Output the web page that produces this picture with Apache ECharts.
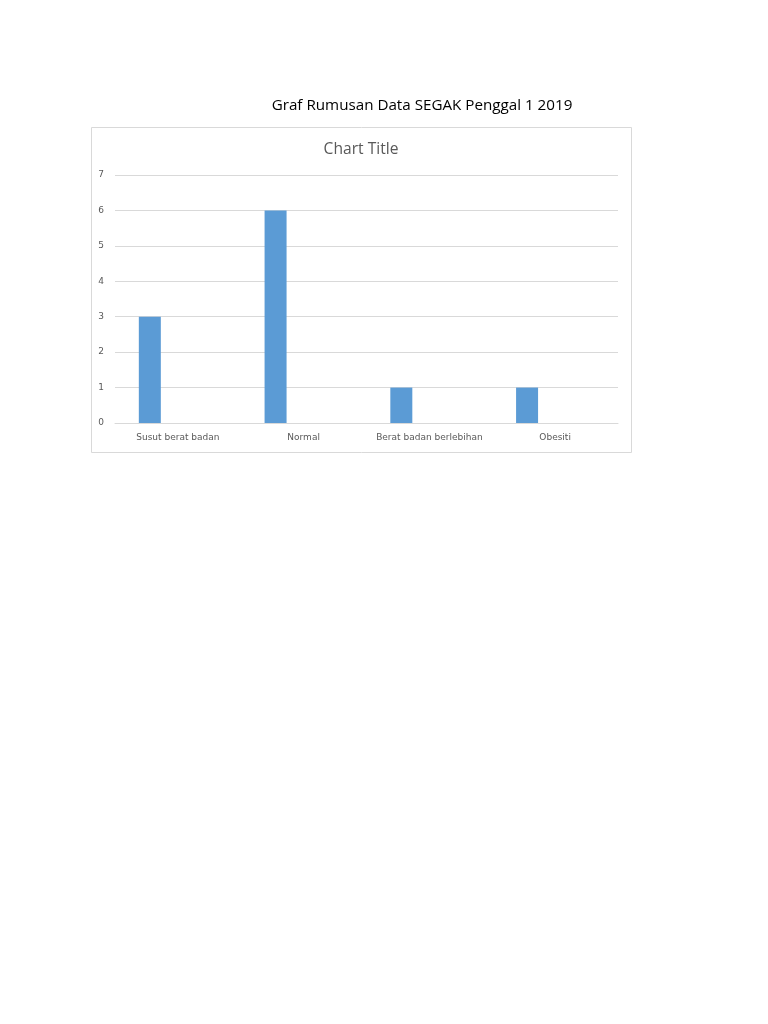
<!DOCTYPE html>
<html>
<head>
<meta charset="utf-8">
<script src="https://cdn.jsdelivr.net/npm/echarts@6/dist/echarts.min.js"></script>
<style>html,body{margin:0;padding:0;background:#fff;}#c{width:768px;height:1024px;}</style>
</head>
<body>
<div id="c"></div>
<script>
var categories = ['Susut berat badan', 'Normal', 'Berat badan berlebihan', 'Obesiti'];
var series1Values = [3, 6, 1, 1];
var series2Values = [null, null, null, null];
var yTicks = [0, 1, 2, 3, 4, 5, 6, 7];
var pageTitle = 'Graf Rumusan Data SEGAK Penggal 1 2019';
var chartTitle = 'Chart Title';

var chart = echarts.init(document.getElementById('c'), null, {renderer: 'canvas'});
chart.setOption({
  backgroundColor: '#ffffff',
  animation: false,
  graphic: [
    {type: 'rect', shape: {x: 91.5, y: 127.5, width: 540, height: 325},
     style: {fill: 'none', stroke: '#d9d9d9', lineWidth: 1}, z: -1},
    {type: 'text', x: 422, y: 106, style: {text: pageTitle, fill: '#000', font: 'normal 15.2px "Open Sans"',
      textAlign: 'center', textVerticalAlign: 'middle'}},
    {type: 'text', x: 361, y: 150, style: {text: chartTitle, fill: '#595959', font: 'normal 15.6px "Open Sans"',
      textAlign: 'center', textVerticalAlign: 'middle'}}
  ],
  grid: {left: 115, right: 150, top: 175, bottom: 601, containLabel: false},
  xAxis: {
    type: 'category', data: categories,
    axisLine: {lineStyle: {color: '#d9d9d9'}},
    axisTick: {show: false},
    axisLabel: {color: '#595959', fontSize: 9, fontFamily: 'DejaVu Sans', margin: 10, interval: 0}
  },
  yAxis: {
    type: 'value', min: yTicks[0], max: yTicks[yTicks.length - 1], interval: 1,
    axisLine: {show: false}, axisTick: {show: false},
    splitLine: {lineStyle: {color: '#d9d9d9'}},
    axisLabel: {color: '#595959', fontSize: 9, fontFamily: 'DejaVu Sans', margin: 11}
  },
  series: [
    {type: 'bar', data: series1Values, barWidth: 22, barGap: '155%', itemStyle: {color: '#5b9bd5'}},
    {type: 'bar', data: series2Values, barWidth: 22, itemStyle: {color: '#ed7d31'}}
  ]
});
</script>
</body>
</html>
